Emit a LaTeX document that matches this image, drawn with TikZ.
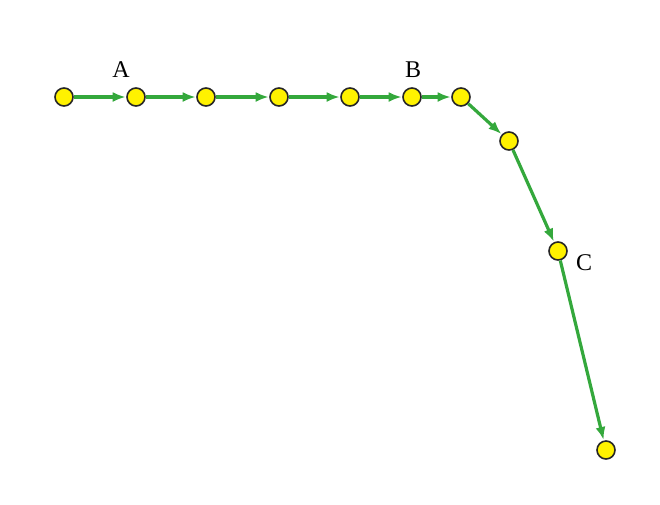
\documentclass[tikz,border=0pt]{standalone}
\usepackage{fontspec}
\setmainfont{Liberation Serif}
\usetikzlibrary{arrows.meta}
\definecolor{edgegreen}{RGB}{52,168,60}
\tikzset{
  pt/.style={circle,draw=black!85,fill=yellow,line width=1.6pt,minimum size=18pt,inner sep=0pt},
  link/.style={edgegreen,line width=3.2pt,-{Latex[length=13pt,width=10pt]},shorten >=0.5pt},
  lbl/.style={font=\fontsize{24}{24}\selectfont}
}
\begin{document}
\begin{tikzpicture}[x=1pt,y=-1pt]
  \useasboundingbox (0,0) rectangle (660,504);

  \node[pt] (n1) at (64,97) {};
  \node[pt] (n2) at (136,97) {};
  \node[pt] (n3) at (206,97) {};
  \node[pt] (n4) at (279,97) {};
  \node[pt] (n5) at (350,97) {};
  \node[pt] (n6) at (412,97) {};
  \node[pt] (n7) at (461,97) {};
  \node[pt] (n8) at (509,141) {};
  \node[pt] (n9) at (558,251) {};
  \node[pt] (n10) at (606,450) {};

  \foreach \a/\b in {1/2,2/3,3/4,4/5,5/6,6/7,7/8,8/9,9/10}
    \draw[link] (n\a) -- (n\b);

  % labels
  \node[lbl] (la) at (121,70) {A};
  \node[lbl] (lb) at (413,70) {B};
  \node[lbl] (lc) at (584,263) {C};
\end{tikzpicture}
\end{document}
